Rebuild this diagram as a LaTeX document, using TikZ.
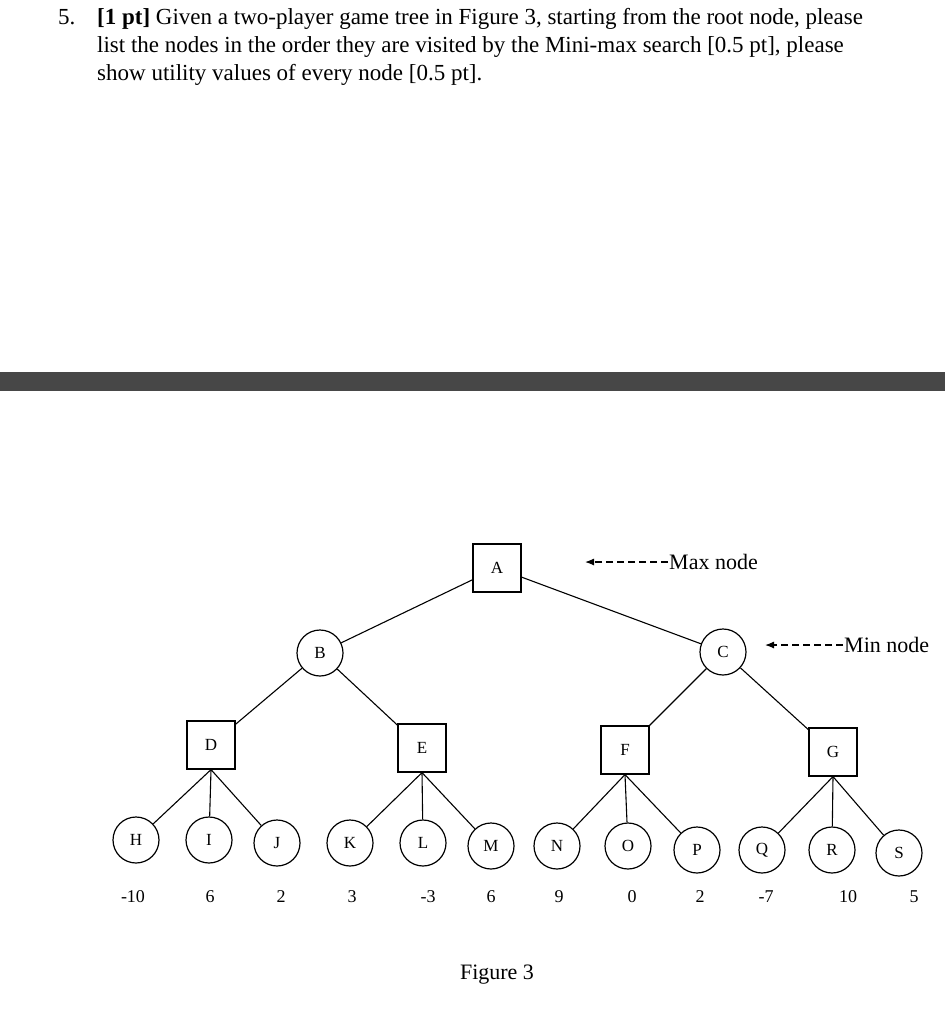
\documentclass[tikz,border=0pt]{standalone}
\usepackage{fontspec}
\setmainfont{Liberation Serif}
\usetikzlibrary{arrows.meta}
\begin{document}
\begin{tikzpicture}[x=1pt,y=-1pt,
  maxn/.style={draw,line width=1.2pt,minimum size=48pt,inner sep=0pt,font=\fontsize{17}{17}\selectfont},
  minn/.style={draw,line width=1.2pt,circle,minimum size=46pt,inner sep=0pt,font=\fontsize{17}{17}\selectfont},
  val/.style={font=\fontsize{18}{18}\selectfont},
  edge/.style={line width=1.1pt}]
\useasboundingbox (0,0) rectangle (945,1024);
\fill[white] (0,0) rectangle (945,1024);
\node[anchor=north west,align=left,font=\fontsize{23}{28}\selectfont,inner sep=0pt] (q) at (58,8)
 {\makebox[39pt][l]{5.}\textbf{[1 pt]} Given a two-player game tree in Figure 3, starting from the root node, please\\
 \hspace*{39pt}list the nodes in the order they are visited by the Mini-max search [0.5 pt], please\\
 \hspace*{39pt}show utility values of every node [0.5 pt].};
\fill[black!72] (0,372) rectangle (945,391);
\node[maxn] (A) at (497,568) {A};
\node[minn] (B) at (320,653) {B};
\node[minn] (C) at (723,652) {C};
\node[maxn] (D) at (211,745) {D};
\node[maxn] (E) at (422,748) {E};
\node[maxn] (F) at (625,750) {F};
\node[maxn] (G) at (833,752) {G};
\foreach \n/\x/\y/\v/\vx in {H/136/840/-10/133, I/209/840/6/210, J/277/843/2/281, K/350/843/3/352, L/423/843/-3/428, M/491/846/6/491, N/557/846/9/559, O/628/846/0/632, P/697/850/2/700, Q/762/850/-7/766, R/832/850/10/848, S/899/853/5/914}{
  \node[minn] (\n) at (\x,\y) {\n};
  \node[val] (v\n) at (\vx,897) {\v};
}
\draw[edge] (A) -- (B); \draw[edge] (A) -- (C);
\draw[edge] (B) -- (D); \draw[edge] (B) -- (E);
\draw[edge] (C) -- (F); \draw[edge] (C) -- (G);
\foreach \p/\c in {D/H,D/I,D/J,E/K,E/L,E/M,F/N,F/O,F/P,G/Q,G/R,G/S}{
  \draw[edge] (\p.south) -- (\c);
}
\node[anchor=west,font=\fontsize{22}{22}\selectfont,inner sep=1pt] (mx) at (668,562) {Max node};
\coordinate (mxe) at (585,562);
\draw[line width=1.2pt,dash pattern=on 7pt off 4pt,-{Latex[length=9pt,width=7pt]}] (mx.west) -- (mxe);
\node[anchor=west,font=\fontsize{22}{22}\selectfont,inner sep=1pt] (mn) at (843,645) {Min node};
\coordinate (mne) at (765,645);
\draw[line width=1.2pt,dash pattern=on 7pt off 4pt,-{Latex[length=9pt,width=7pt]}] (mn.west) -- (mne);
\node[font=\fontsize{22}{22}\selectfont] (fig) at (497,975) {Figure 3};
\end{tikzpicture}
\end{document}
